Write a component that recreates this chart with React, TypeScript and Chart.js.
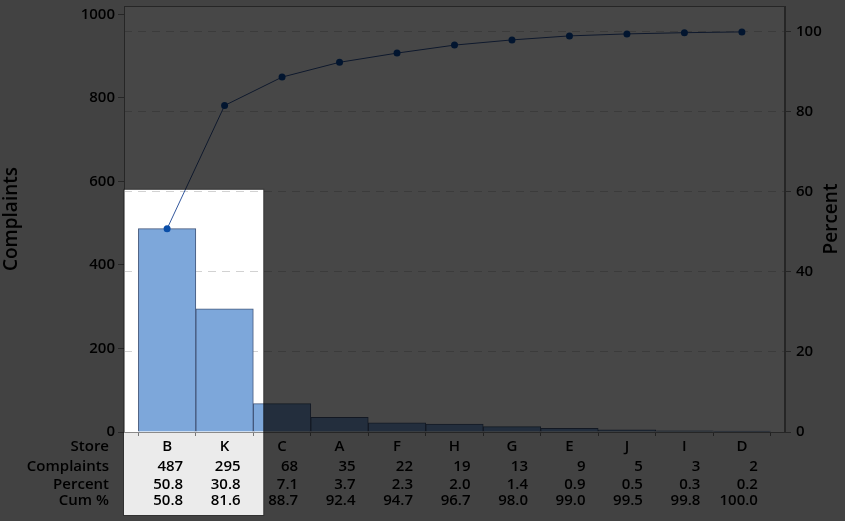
import { useEffect, useRef } from "react"
import { Chart, type ChartConfiguration, type Plugin, registerables } from "chart.js"

Chart.register(...registerables)

const stores = ["B", "K", "C", "A", "F", "H", "G", "E", "J", "I", "D"]
const complaints = [487, 295, 68, 35, 22, 19, 13, 9, 5, 3, 2]
const percent = [50.8, 30.8, 7.1, 3.7, 2.3, 2.0, 1.4, 0.9, 0.5, 0.3, 0.2]
const cumPercent = [50.8, 81.6, 88.7, 92.4, 94.7, 96.7, 98.0, 99.0, 99.5, 99.8, 100.0]
const rowLabels = ["Store", "Complaints", "Percent", "Cum %"]
const leftTicks = [0, 200, 400, 600, 800, 1000]
const rightTicks = [0, 20, 40, 60, 80, 100]

const total = complaints.reduce((s, v) => s + v, 0)
const leftMax = 1020
const rightMax = (leftMax * 100) / total

const FONT = "'Open Sans', 'Noto Sans', sans-serif"
const WEIGHT = 600

// draws the light backgrounds, the table under the bars, the right title and the dimmed overlay
const paretoExtras: Plugin = {
  id: "paretoExtras",
  beforeDraw(chart) {
    const { ctx, chartArea: a, width, height } = chart
    ctx.save()
    ctx.fillStyle = "#ebebeb"
    ctx.fillRect(0, 0, width, height)
    ctx.fillStyle = "#ffffff"
    ctx.fillRect(a.left, a.top, a.right - a.left, a.bottom - a.top)
    ctx.restore()
  },
  afterDraw(chart) {
    const { ctx, chartArea: a, width, height } = chart
    const x = chart.scales.x
    const y = chart.scales.y
    ctx.save()

    // frame
    ctx.strokeStyle = "#8a8a8a"
    ctx.lineWidth = 1
    ctx.strokeRect(Math.round(a.left) + 0.5, Math.round(a.top) + 0.5, a.right - a.left - 1, a.bottom - a.top)

    // right axis title, reading upwards like the left one
    ctx.save()
    ctx.translate(width - 13, (a.top + a.bottom) / 2)
    ctx.rotate(-Math.PI / 2)
    ctx.font = `${WEIGHT} 19px ${FONT}`
    ctx.fillStyle = "#000"
    ctx.textAlign = "center"
    ctx.textBaseline = "middle"
    ctx.fillText("Percent", 0, 0)
    ctx.restore()

    // table rows
    const rowOffsets = [14.5, 34.5, 52.5, 69]
    ctx.font = `${WEIGHT} 15px ${FONT}`
    ctx.fillStyle = "#000"
    ctx.textBaseline = "middle"
    ctx.textAlign = "right"
    rowLabels.forEach((lab, r) => ctx.fillText(lab, 109, a.bottom + rowOffsets[r]))
    stores.forEach((s, i) => {
      const px = x.getPixelForValue(i)
      ctx.textAlign = "center"
      ctx.fillText(s, px, a.bottom + rowOffsets[0])
      ctx.textAlign = "right"
      ctx.fillText(String(complaints[i]), px + 16, a.bottom + rowOffsets[1])
      ctx.fillText(percent[i].toFixed(1), px + 16, a.bottom + rowOffsets[2])
      ctx.fillText(cumPercent[i].toFixed(1), px + 16, a.bottom + rowOffsets[3])
    })

    // spotlight on the first two stores
    const hl = {
      left: a.left,
      right: x.getPixelForValue(1.5) + 10,
      top: y.getPixelForValue(580),
      bottom: height - 6,
    }
    ctx.beginPath()
    ctx.rect(0, 0, width, height)
    ctx.rect(hl.left, hl.top, hl.right - hl.left, hl.bottom - hl.top)
    ctx.fillStyle = "rgba(0,0,0,0.72)"
    ctx.fill("evenodd")
    ctx.strokeStyle = "rgba(0,0,0,0.25)"
    ctx.strokeRect(hl.left - 0.5, hl.top - 0.5, hl.right - hl.left + 1, hl.bottom - hl.top + 1)
    ctx.restore()
  },
}

export default function App() {
  const chartRef = useRef<HTMLCanvasElement>(null)
  const chartInstance = useRef<Chart | null>(null)

  useEffect(() => {
    document.body.style.margin = "0"
    if (!chartRef.current) return
    if (chartInstance.current) chartInstance.current.destroy()
    const ctx = chartRef.current.getContext("2d")
    if (!ctx) return

    const noVPad = (s: any) => {
      s.paddingTop = 0
      s.paddingBottom = 0
    }

    const config: ChartConfiguration = {
      type: "bar",
      data: {
        datasets: [
          {
            type: "line",
            label: "Cum %",
            data: cumPercent.map((v, i) => ({ x: i, y: v })),
            yAxisID: "y1",
            borderColor: "#34589e",
            borderWidth: 1,
            pointRadius: 3.5,
            pointBackgroundColor: "#0a4ea8",
            pointBorderWidth: 0,
            order: 0,
          },
          {
            type: "bar",
            label: "Complaints",
            data: complaints.map((v, i) => ({ x: i, y: v })),
            yAxisID: "y",
            backgroundColor: "#7da7da",
            borderColor: "#44587c",
            borderWidth: 1,
            barPercentage: 1,
            categoryPercentage: 1,
            order: 1,
          },
        ],
      } as any,
      options: {
        responsive: true,
        maintainAspectRatio: false,
        animation: false,
        layout: { padding: { top: 6, left: 0, right: 0, bottom: 0 } },
        plugins: {
          legend: { display: false },
          tooltip: { enabled: false },
        },
        scales: {
          x: {
            type: "linear",
            offset: false,
            min: -0.75,
            max: 10.75,
            afterBuildTicks: (s) => {
              s.ticks = stores.map((_, i) => ({ value: i }))
            },
            afterFit: (s: any) => {
              s.height = 89
              s.paddingLeft = 0
              s.paddingRight = 0
            },
            ticks: { display: false },
            grid: { drawOnChartArea: false, tickLength: 4, color: "#777" },
            border: { color: "#8a8a8a" },
          },
          y: {
            type: "linear",
            position: "left",
            min: 0,
            max: leftMax,
            afterBuildTicks: (s) => {
              s.ticks = leftTicks.map((v) => ({ value: v }))
            },
            afterFit: (s) => {
              s.width = 124
              noVPad(s)
            },
            ticks: {
              color: "#000",
              font: { family: FONT, size: 15, weight: WEIGHT },
              padding: 3,
              callback: (v) => String(v),
            },
            grid: { drawOnChartArea: false, tickLength: 6, color: "#888" },
            border: { color: "#8a8a8a" },
            title: {
              display: true,
              text: "Complaints",
              color: "#000",
              font: { family: FONT, size: 19, weight: WEIGHT },
              padding: 0,
            },
          },
          y1: {
            type: "linear",
            position: "right",
            min: 0,
            max: rightMax,
            afterBuildTicks: (s) => {
              s.ticks = rightTicks.map((v) => ({ value: v }))
            },
            afterFit: (s) => {
              s.width = 60
              noVPad(s)
            },
            ticks: {
              color: "#000",
              font: { family: FONT, size: 15, weight: WEIGHT },
              padding: 5,
              callback: (v) => String(v),
            },
            grid: { drawOnChartArea: true, tickLength: 6, color: "#d2d2d2", tickColor: "#888" },
            border: { color: "#8a8a8a", dash: [8, 6] },
          },
        },
      },
      plugins: [paretoExtras],
    }

    chartInstance.current = new Chart(ctx, config)
    return () => {
      if (chartInstance.current) {
        chartInstance.current.destroy()
        chartInstance.current = null
      }
    }
  }, [])

  return (
    <div style={{ position: "relative", width: 845, height: 521 }}>
      <canvas ref={chartRef} />
    </div>
  )
}
